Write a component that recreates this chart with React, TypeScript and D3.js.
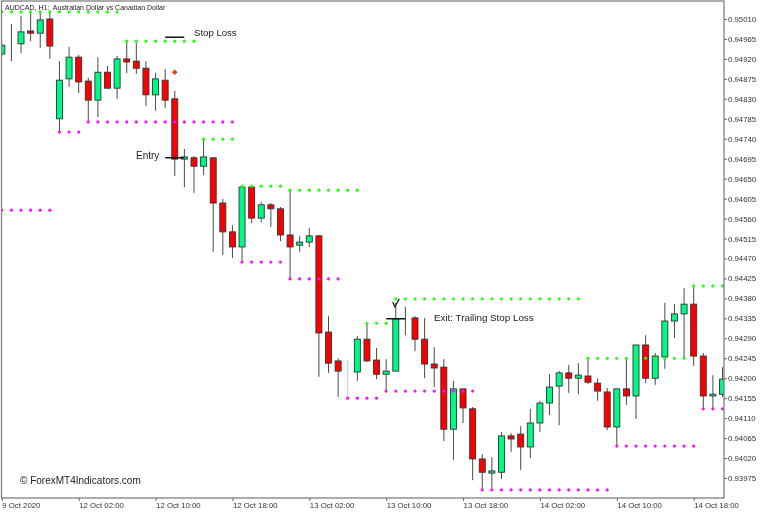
import { useEffect } from "react";
import * as d3 from "d3";

// prices are written as 5 digit points, 94951 = 0.94951
const opens = [94931, 94951, 94954, 94983, 94978, 95010, 94785, 94875, 94924, 94870, 94827, 94890, 94854, 94920, 94915, 94899, 94839, 94872, 94830, 94694, 94697, 94678, 94697, 94595, 94530, 94496, 94631, 94561, 94591, 94582, 94523, 94500, 94507, 94521, 94304, 94239, 94216, 94214, 94288, 94241, 94209, 94216, 94334, 94336, 94288, 94232, 94225, 94085, 94176, 94131, 94018, 93986, 93988, 94070, 94074, 94045, 94099, 94144, 94182, 94212, 94200, 94205, 94189, 94169, 94090, 94176, 94160, 94275, 94200, 94248, 94329, 94345, 94367, 94250, 94160, 94164];
const highs = [94956, 94999, 95017, 95026, 95028, 95026, 94915, 94947, 94929, 94877, 94924, 94904, 94927, 94960, 94956, 94915, 94888, 94897, 94848, 94717, 94701, 94739, 94697, 94604, 94545, 94631, 94631, 94597, 94595, 94586, 94624, 94521, 94539, 94523, 94340, 94245, 94241, 94295, 94324, 94268, 94243, 94370, 94361, 94340, 94336, 94270, 94243, 94194, 94176, 94135, 94029, 94022, 94079, 94076, 94092, 94131, 94149, 94209, 94216, 94230, 94234, 94245, 94200, 94178, 94176, 94245, 94275, 94297, 94257, 94370, 94367, 94403, 94408, 94257, 94207, 94225];
const lows = [94927, 94915, 94933, 94960, 94945, 94920, 94755, 94857, 94843, 94778, 94789, 94852, 94830, 94888, 94886, 94814, 94803, 94809, 94656, 94631, 94618, 94658, 94485, 94478, 94471, 94462, 94550, 94552, 94541, 94509, 94424, 94485, 94496, 94203, 94212, 94158, 94155, 94194, 94237, 94198, 94171, 94216, 94297, 94261, 94200, 94180, 94058, 94016, 94099, 93970, 93948, 93952, 93973, 94034, 93993, 94020, 94079, 94117, 94094, 94167, 94164, 94187, 94149, 94083, 94047, 94140, 94108, 94189, 94185, 94221, 94291, 94245, 94228, 94133, 94131, 94158];
const closes = [94951, 94951, 94981, 94978, 95008, 94949, 94872, 94924, 94868, 94827, 94890, 94854, 94920, 94913, 94899, 94839, 94875, 94827, 94694, 94699, 94678, 94699, 94595, 94530, 94496, 94631, 94561, 94591, 94582, 94523, 94496, 94507, 94521, 94302, 94234, 94216, 94216, 94288, 94239, 94209, 94216, 94334, 94334, 94288, 94232, 94223, 94085, 94176, 94133, 94018, 93988, 93991, 94070, 94063, 94045, 94099, 94144, 94180, 94212, 94200, 94207, 94191, 94171, 94090, 94176, 94160, 94275, 94200, 94250, 94329, 94345, 94367, 94250, 94160, 94164, 94198];

// stop levels as [first bar, last bar, price]
const upperStops = [[0, 12, 95026], [13, 20, 94960], [21, 24, 94739], [25, 29, 94633], [30, 37, 94624], [38, 40, 94324], [41, 60, 94379], [61, 71, 94245], [72, 75, 94408]];
const lowerStops = [[0, 5, 94579], [6, 8, 94755], [9, 24, 94778], [25, 29, 94462], [30, 35, 94424], [36, 39, 94155], [40, 49, 94171], [50, 63, 93948], [64, 72, 94047], [73, 75, 94131]];

const priceTicks = [95010, 94965, 94920, 94875, 94830, 94785, 94740, 94695, 94650, 94605, 94560, 94515, 94470, 94425, 94380, 94335, 94290, 94245, 94200, 94155, 94110, 94065, 94020, 93975];
const timeBars = [0, 8, 16, 24, 32, 40, 48, 56, 64, 72];
const timeLabels = ["9 Oct 2020", "12 Oct 02:00", "12 Oct 10:00", "12 Oct 18:00", "13 Oct 02:00", "13 Oct 10:00", "13 Oct 18:00", "14 Oct 02:00", "14 Oct 10:00", "14 Oct 18:00"];
const fadedBars = [36];

const FONT = "'Liberation Sans', Arial, sans-serif";

const App = () => {
    useEffect(() => {
        d3.select("#chart svg").remove();

        const width = 768, height = 513;
        const frame = { left: 1.5, top: 1, right: 724, bottom: 498 };

        const svg = d3.select("#chart").append("svg")
            .attr("width", width)
            .attr("height", height)
            .style("position", "absolute")
            .style("left", 0)
            .style("top", 0)
            .style("background", "#fff")
            .style("filter", "blur(0.35px)");

        const x = d3.scaleLinear().domain([0, 75]).range([1.8, 722.5]);
        const y = d3.scaleLinear().domain([95010, 93975]).range([19, 478]);

        svg.append("clipPath").attr("id", "plot")
            .append("rect")
            .attr("x", frame.left)
            .attr("y", frame.top)
            .attr("width", frame.right - frame.left)
            .attr("height", frame.bottom - frame.top);

        const plot = svg.append("g").attr("clip-path", "url(#plot)");

        // candles
        const bars = plot.selectAll("g.bar")
            .data(d3.range(opens.length))
            .join("g")
            .attr("class", "bar")
            .attr("opacity", (i) => fadedBars.includes(i) ? 0.3 : 1);

        bars.append("line")
            .attr("x1", (i) => x(i))
            .attr("x2", (i) => x(i))
            .attr("y1", (i) => y(highs[i]))
            .attr("y2", (i) => y(lows[i]))
            .attr("stroke", "#4a4a4a")
            .attr("stroke-width", 1);

        bars.append("rect")
            .attr("x", (i) => x(i) - 3)
            .attr("width", 6)
            .attr("y", (i) => y(Math.max(opens[i], closes[i])))
            .attr("height", (i) => Math.abs(y(opens[i]) - y(closes[i])))
            .attr("fill", (i) => closes[i] >= opens[i] ? "#00f986" : "#fa0000")
            .attr("stroke", "#333")
            .attr("stroke-width", 0.9);

        // stop dots
        const drawStops = (levels: number[][], color: string) => {
            levels.forEach(([first, last, price]) => {
                plot.selectAll(null)
                    .data(d3.range(first, last + 1))
                    .join("circle")
                    .attr("cx", (i) => x(i))
                    .attr("cy", y(price))
                    .attr("r", 1.6)
                    .attr("fill", color);
            });
        };
        drawStops(upperStops, "#22ff11");
        drawStops(lowerStops, "#ff11ff");

        // annotations
        const mark = (bar: number, price: number) => {
            plot.append("line")
                .attr("x1", x(bar) - 9.5)
                .attr("x2", x(bar) + 9.5)
                .attr("y1", y(price))
                .attr("y2", y(price))
                .attr("stroke", "#111")
                .attr("stroke-width", 1.6);
        };
        mark(18, 94969);
        mark(18, 94697);
        mark(41, 94334);

        plot.append("path")
            .attr("d", d3.symbol(d3.symbolDiamond2, 20)())
            .attr("transform", `translate(${x(18)},${y(94890)})`)
            .attr("fill", "#e8431f");

        const tick = d3.line();
        plot.append("path")
            .attr("d", tick([[x(41) - 3, y(94372)], [x(41) - 1, y(94361)], [x(41) + 3.5, y(94379)]]))
            .attr("fill", "none")
            .attr("stroke", "#222")
            .attr("stroke-width", 1.3);

        const label = (px: number, py: number, text: string, size: number) => {
            svg.append("text")
                .attr("x", px)
                .attr("y", py)
                .attr("font-family", FONT)
                .attr("font-size", size)
                .attr("fill", "#222")
                .style("white-space", "pre")
                .text(text);
        };
        label(194, 35.5, "Stop Loss", 9.6);
        label(136, 159, "Entry", 10);
        label(434, 321, "Exit: Trailing Stop Loss", 9.8);
        label(20, 484, "\u00a9 ForexMT4Indicators.com", 10);
        label(5, 9.5, "AUDCAD, H1:  Australian Dollar vs Canadian Dollar", 7);

        // frame and axes
        svg.append("rect")
            .attr("x", frame.left)
            .attr("y", frame.top)
            .attr("width", frame.right - frame.left)
            .attr("height", frame.bottom - frame.top)
            .attr("fill", "none")
            .attr("stroke", "#808080")
            .attr("stroke-width", 1.3);

        const yAxis = svg.append("g")
            .attr("transform", `translate(${frame.right},0)`)
            .call(d3.axisRight(y)
                .tickValues(priceTicks)
                .tickSize(3)
                .tickPadding(1)
                .tickFormat((d) => (Number(d) / 100000).toFixed(5)));

        const xAxis = svg.append("g")
            .attr("transform", `translate(0,${frame.bottom})`)
            .call(d3.axisBottom(x)
                .tickValues(timeBars)
                .tickSize(3)
                .tickPadding(1)
                .tickFormat((_, i) => timeLabels[i]));
        xAxis.selectAll("text").attr("text-anchor", "start");

        [yAxis, xAxis].forEach((axis) => {
            axis.select(".domain").remove();
            axis.selectAll("line").attr("stroke", "#666");
            axis.selectAll("text")
                .attr("font-family", FONT)
                .attr("font-size", 7.8)
                .attr("fill", "#333");
        });
    }, []);

    return <div id="chart"></div>;
};

export default App;
